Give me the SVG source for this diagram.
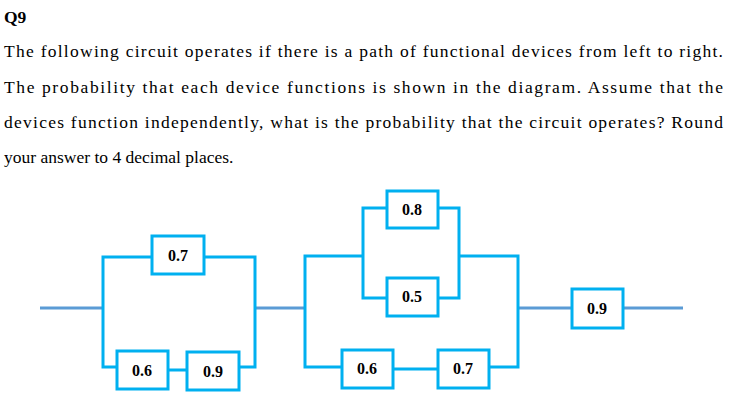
<svg xmlns="http://www.w3.org/2000/svg" width="732" height="402" viewBox="0 0 732 402">
<style>
.t{font-family:"Liberation Serif",serif;font-size:17.5px;fill:#000}
.w{fill:none;stroke:#00b0f0;stroke-width:3}
.m{fill:none;stroke:#5b9bd5;stroke-width:3}
.b{fill:#fff;stroke:#00b0f0;stroke-width:3}
.l{font-family:"Liberation Serif",serif;font-size:16px;font-weight:bold;text-anchor:middle;fill:#000}
</style>
<rect width="732" height="402" fill="#fff"/>
<text class="t" x="4" y="23" font-weight="bold">Q9</text>
<text class="t" x="4" y="57" textLength="719" lengthAdjust="spacing">The following circuit operates if there is a path of functional devices from left to right.</text>
<text class="t" x="4" y="93" textLength="719" lengthAdjust="spacing">The probability that each device functions is shown in the diagram.  Assume that the</text>
<text class="t" x="4" y="128" textLength="719" lengthAdjust="spacing">devices function independently, what is the probability that the circuit operates? Round</text>
<text class="t" x="4" y="163">your answer to 4 decimal places.</text>
<g id="connectors">
<path class="m" d="M40 308H103M255 308H305M518 308H572M623 308H683"/>
<path class="w" d="M152 257H103V367H117M204 257H255V367H239M168 370H187"/>
<path class="w" d="M342 367H305V256H363M387 208H363V298H387M438 208H459V298H438M459 256H518V367H489M393 369H438"/>
</g>
<g id="n1"><rect class="b" x="152" y="236" width="52" height="38"/><text class="l" x="178" y="261">0.7</text></g>
<g id="n2"><rect class="b" x="117" y="351" width="51" height="38"/><text class="l" x="142" y="376">0.6</text></g>
<g id="n3"><rect class="b" x="187" y="352" width="52" height="38"/><text class="l" x="213" y="377">0.9</text></g>
<g id="n4"><rect class="b" x="387" y="191" width="51" height="37"/><text class="l" x="412" y="215">0.8</text></g>
<g id="n5"><rect class="b" x="387" y="278" width="51" height="38"/><text class="l" x="412" y="302">0.5</text></g>
<g id="n6"><rect class="b" x="342" y="350" width="51" height="38"/><text class="l" x="367" y="374">0.6</text></g>
<g id="n7"><rect class="b" x="438" y="350" width="51" height="38"/><text class="l" x="463" y="374">0.7</text></g>
<g id="n8"><rect class="b" x="572" y="289" width="51" height="39"/><text class="l" x="597" y="314">0.9</text></g>
</svg>
